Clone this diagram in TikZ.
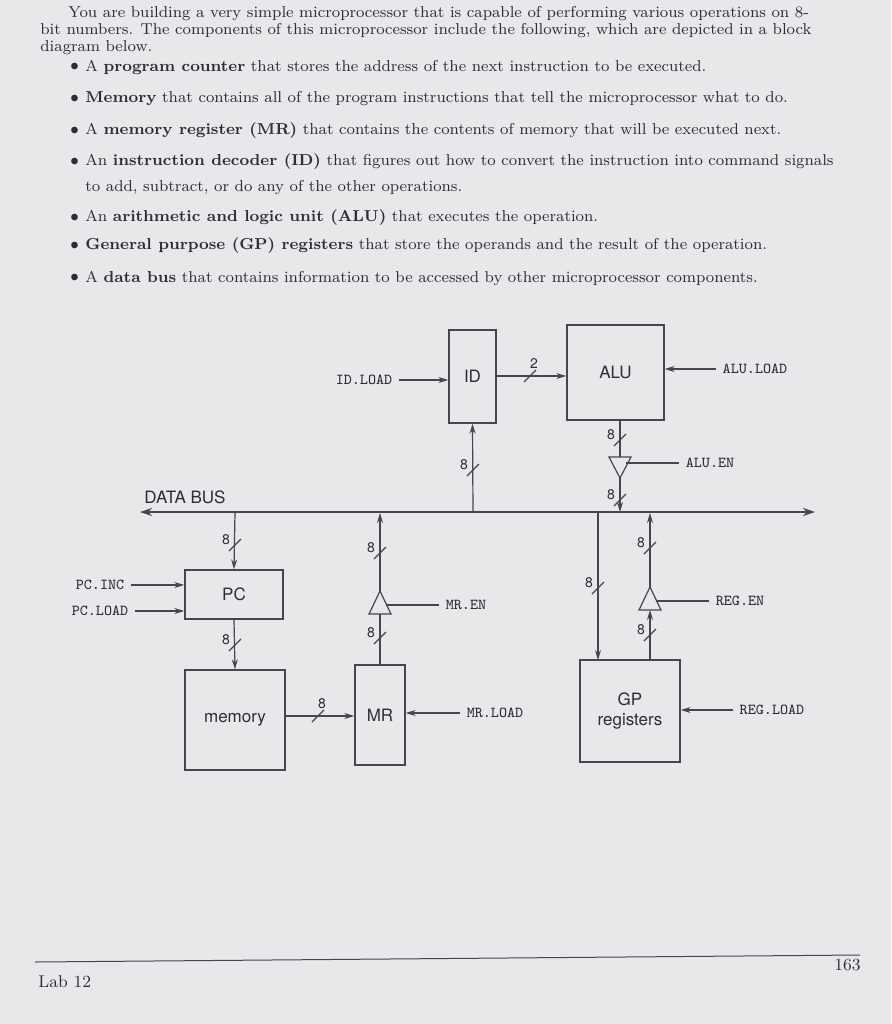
\documentclass[tikz,border=0pt]{standalone}
\usepackage{fontspec}
\setsansfont{TeX Gyre Heros}
\usetikzlibrary{arrows.meta}
\definecolor{paper}{RGB}{232,232,235}
\definecolor{ink}{RGB}{70,70,75}
\definecolor{txt}{RGB}{45,45,50}
\begin{document}
\begin{tikzpicture}[x=0.5pt,y=-0.5pt,
  body/.style={anchor=west,inner sep=0pt,text=txt,font=\fontsize{7.9}{9}\selectfont},
  blk/.style={draw=ink,line width=0.7pt,fill=none,font=\sffamily\fontsize{8.5}{10}\selectfont,text=txt,align=center},
  sig/.style={font=\ttfamily\fontsize{7.6}{9}\selectfont,text=txt,inner sep=3pt},
  wire/.style={draw=ink,line width=0.6pt},
  arr/.style={wire,-{Stealth[length=5pt,width=3pt]}},
  buf/.style={draw=ink,line width=0.6pt,fill=paper}]
\fill[paper] (0,0) rectangle (891,1024);
\useasboundingbox (0,0) rectangle (891,1024);
\newcommand{\vsl}[3]{\draw[wire] (#1-6,#2+6) -- (#1+6,#2-6); \node[font=\sffamily\fontsize{7}{8}\selectfont,text=txt,inner sep=0pt] at (#1-9,#2-5) {#3};}
\newcommand{\hsl}[3]{\draw[wire] (#1-6,#2+6) -- (#1+6,#2-6); \node[font=\sffamily\fontsize{7}{8}\selectfont,text=txt,inner sep=0pt] at (#1+4,#2-12) {#3};}
% text
\node[body] at (68,14) {You are building a very simple microprocessor that is capable of performing various operations on 8-};
\node[body] at (40,31) {bit numbers. The components of this microprocessor include the following, which are depicted in a block};
\node[body] at (40,48) {diagram below.};
\foreach \y/\t in {67/{A \textbf{program counter} that stores the address of the next instruction to be executed.},
 99/{\textbf{Memory} that contains all of the program instructions that tell the microprocessor what to do.},
 131/{A \textbf{memory register (MR)} that contains the contents of memory that will be executed next.},
 162/{An \textbf{instruction decoder (ID)} that figures out how to convert the instruction into command signals},
 218/{An \textbf{arithmetic and logic unit (ALU)} that executes the operation.},
 246/{\textbf{General purpose (GP) registers} that store the operands and the result of the operation.},
 278/{A \textbf{data bus} that contains information to be accessed by other microprocessor components.}}
 {\node[body] at (70,\y) {$\bullet$}; \node[body] at (85,\y) {\t};}
\node[body] at (85,188) {to add, subtract, or do any of the other operations.};
% blocks
\node[blk,minimum width=23.5pt,minimum height=46.5pt] (id) at (472.5,376.5) {ID};
\node[blk,minimum width=48.5pt,minimum height=47.5pt] (alu) at (615.5,372.5) {ALU};
\node[blk,minimum width=49pt,minimum height=24.5pt] (pc) at (234,594.5) {PC};
\node[blk,minimum width=50pt,minimum height=50pt] (mem) at (235,720) {memory};
\node[blk,minimum width=25pt,minimum height=50pt] (mr) at (380,715) {MR};
\node[blk,minimum width=50pt,minimum height=51pt] (gp) at (630,711) {GP\\registers};
% bus
\coordinate (busL) at (140,512); \coordinate (busR) at (815,512);
\draw[wire,line width=1.4pt,{Stealth[length=6pt,width=4pt]}-{Stealth[length=6pt,width=4pt]}] (busL) -- (busR);
\node[font=\sffamily\fontsize{8.5}{10}\selectfont,text=txt,anchor=south,inner sep=1pt] at (185,506) {DATA BUS};
% ID
\node[sig] (idl) at (364,380) {ID.LOAD};
\draw[arr] (idl) -- (id.west|-idl);
\draw[arr] (id.east|-0,376) -- (alu.west|-0,376); \hsl{530}{376}{2}
\draw[arr] (473,512) -- (id.south); \vsl{473}{470}{8}
% ALU
\node[sig] (alul) at (755,369) {ALU.LOAD};
\draw[arr] (alul.west) -- (alu.east|-0,369);
\draw[buf] (609,457) -- (631,457) -- (620,478) -- cycle;
\coordinate (alubt) at (620,457); \coordinate (alubb) at (620,478);
\draw[wire] (alu.south-|alubt) -- (alubt); \vsl{620}{440}{8}
\draw[arr] (alubb) -- (620,512); \vsl{620}{500}{8}
\node[sig] (alue) at (710,463) {ALU.EN};
\draw[wire] (alue.west) -- (626,463);
% PC
\node[sig] (pci) at (100,585) {PC.INC};
\node[sig] (pcl) at (100,611) {PC.LOAD};
\draw[arr] (pci.east) -- (pc.west|-pci);
\draw[arr] (pcl.east) -- (pc.west|-pcl);
\draw[arr] (235,512) -- (pc.north); \vsl{235}{545}{8}
\draw[arr] (pc.south) -- (mem.north); \vsl{235}{645}{8}
% memory -> MR
\draw[arr] (mem.east|-0,716) -- (mr.west|-0,716); \hsl{318}{716}{8}
\node[sig] (mrl) at (495,713) {MR.LOAD};
\draw[arr] (mrl.west) -- (mr.east|-mrl);
% MR buffer
\draw[buf] (369,614) -- (391,614) -- (380,591) -- cycle;
\draw[wire] (mr.north) -- (380,614); \vsl{380}{638}{8}
\draw[arr] (380,591) -- (380,513); \vsl{380}{553}{8}
\node[sig] (mre) at (466,605) {MR.EN};
\draw[wire] (mre.west) -- (386,605);
% GP
\draw[arr] (598,512) -- (598,660); \vsl{598}{588}{8}
\draw[buf] (639,610) -- (661,610) -- (650,587) -- cycle;
\draw[arr] (650,660) -- (650,610); \vsl{650}{635}{8}
\draw[arr] (650,587) -- (650,513); \vsl{650}{548}{8}
\node[sig] (rege) at (740,601) {REG.EN};
\draw[wire] (rege.west) -- (656,601);
\node[sig] (regl) at (772,710) {REG.LOAD};
\draw[arr] (regl.west) -- (gp.east|-regl);
% footer
\draw[ink,line width=0.5pt] (35,962) -- (860,955);
\node[body,font=\fontsize{8.5}{10}\selectfont] at (38,982) {Lab 12};
\node[body,font=\fontsize{8.5}{10}\selectfont] at (834,965) {163};
\end{tikzpicture}
\end{document}
